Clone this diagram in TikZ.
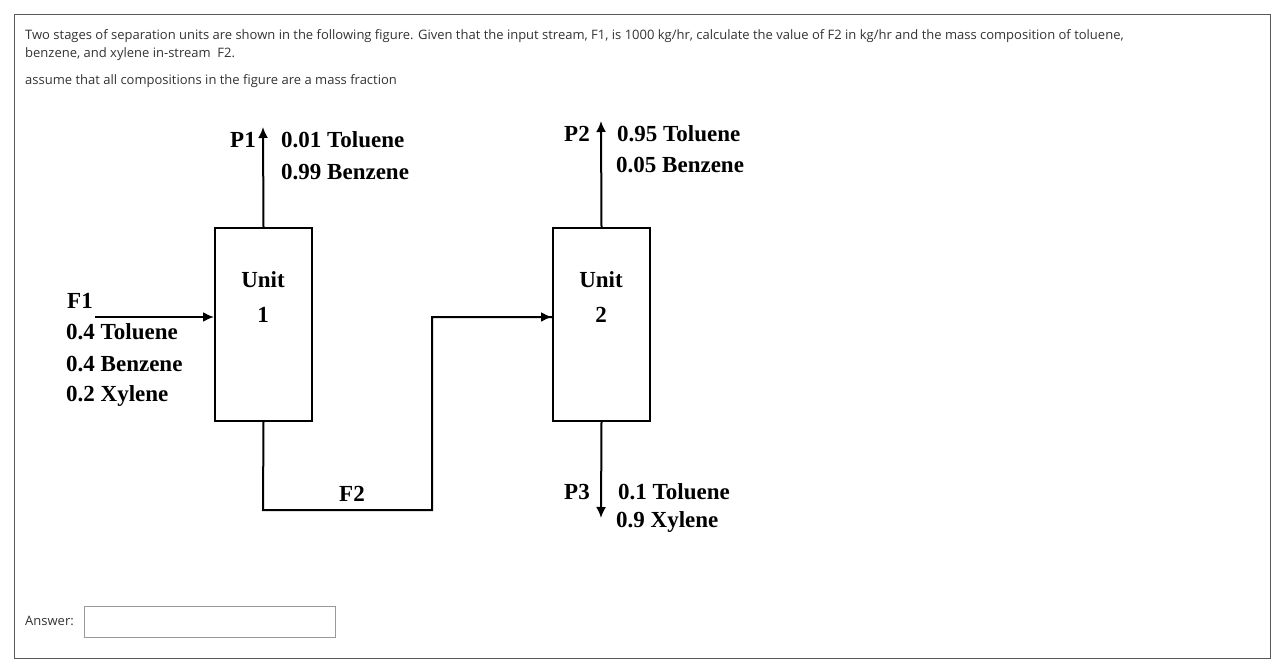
\documentclass[tikz,border=0pt]{standalone}
\usepackage{fontspec}
\setmainfont{Liberation Serif}
\newfontfamily\uifont{Open Sans}
\begin{document}
\begin{tikzpicture}[x=1pt,y=-1pt,
  ln/.style={line width=2pt},
  arr/.style={ln,-{Latex[length=11pt,width=10pt]}},
  lbl/.style={font=\fontsize{23}{26}\selectfont\bfseries,inner sep=0pt},
  ui/.style={font=\uifont\fontsize{13}{16}\selectfont,text=black!80,inner sep=0pt,anchor=west},
  unitbox/.style={draw,ln,minimum width=97pt,minimum height=193pt,inner sep=0pt}]
\useasboundingbox (0,0) rectangle (1275,672);
\usetikzlibrary{arrows.meta}
\draw[black!65,line width=1pt] (14,14) rectangle (1270,658);
\node[ui] (t1) at (25,36) {Two stages of separation units are shown in the following figure. Given that the input stream, F1, is 1000 kg/hr, calculate the value of F2 in kg/hr and the mass composition of toluene,};
\node[ui] (t2) at (25,54) {benzene, and xylene in-stream\ \ F2.};
\node[ui] (t3) at (25,81) {assume that all compositions in the figure are a mass fraction};
\node[ui] (ans) at (25,621) {Answer:};
\node[draw=black!40,line width=0.8pt,minimum width=251pt,minimum height=31pt,anchor=west] (box) at (84,621.5) {};

\node[unitbox] (u1) at (263.5,324.5) {};
\node[unitbox] (u2) at (601.5,324.5) {};
\node[lbl] (u1a) at (263,280) {Unit};
\node[lbl] (u1b) at (263,315) {1};
\node[lbl] (u2a) at (601,280) {Unit};
\node[lbl] (u2b) at (601,315) {2};

\coordinate (p1) at (263,127);
\coordinate (p2) at (601,121);
\coordinate (p3) at (601,518);
\coordinate (f1s) at (95,317);
\draw[arr] (u1.north) -- (p1);
\draw[arr] (u2.north) -- (p2);
\draw[arr] (u2.south) -- (p3);
\draw[arr] (f1s) -- (u1.west |- f1s);
\coordinate (b1) at (263,510);
\coordinate (b2) at (432,510);
\coordinate (b3) at (432,317);
\draw[ln] (u1.south) -- (b1) -- (b2) -- (b3) -- (b3 -| u2.west) coordinate (e2);
\draw[arr] (b3) -- (e2);

\node[lbl] (P1) at (243,140) {P1};
\node[lbl,anchor=west] (c11) at (281,140) {0.01 Toluene};
\node[lbl,anchor=west] (c12) at (281,172) {0.99 Benzene};
\node[lbl] (P2) at (577,134) {P2};
\node[lbl,anchor=west] (c21) at (617,134) {0.95 Toluene};
\node[lbl,anchor=west] (c22) at (616,165) {0.05 Benzene};
\node[lbl] (P3) at (577,492) {P3};
\node[lbl,anchor=west] (c31) at (618,492) {0.1 Toluene};
\node[lbl,anchor=west] (c32) at (616,522) {0.9 Xylene};
\node[lbl] (F1) at (80,301) {F1};
\node[lbl,anchor=west] (c01) at (66,332) {0.4 Toluene};
\node[lbl,anchor=west] (c02) at (66,364) {0.4 Benzene};
\node[lbl,anchor=west] (c03) at (66,396) {0.2 Xylene};
\node[lbl] (F2) at (352,494) {F2};
\end{tikzpicture}
\end{document}
